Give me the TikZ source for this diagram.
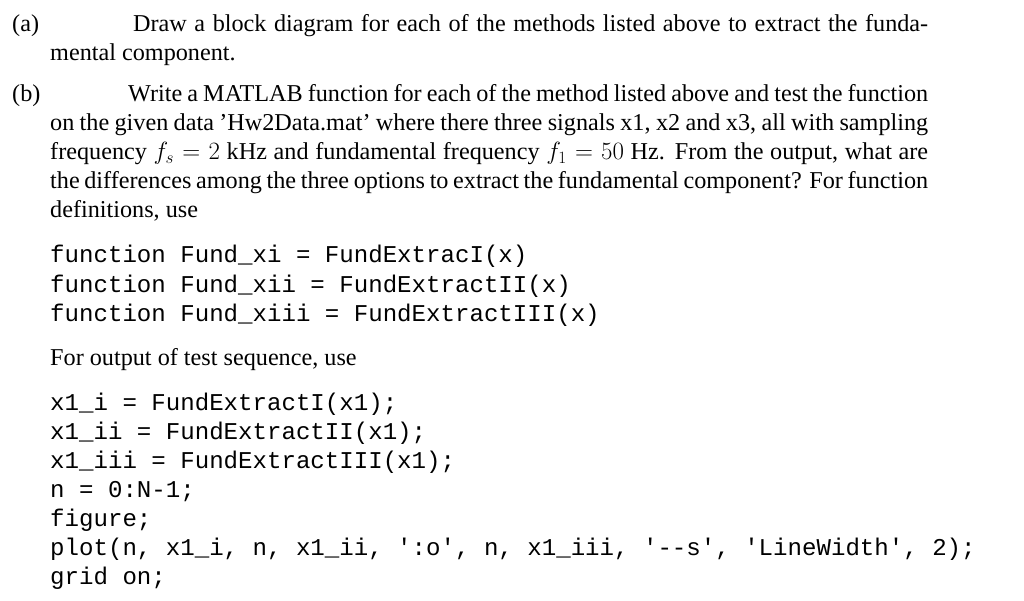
\documentclass[tikz,border=0pt]{standalone}
\usepackage{fontspec}
\setmainfont{Liberation Serif}
\setmonofont{Liberation Mono}
\begin{document}
\begin{tikzpicture}[x=1pt,y=-1pt,
  t/.style={anchor=base west,inner sep=0pt,font=\fontsize{24.2}{28}\selectfont},
  m/.style={anchor=base west,inner sep=0pt,font=\fontsize{24.1}{25}\ttfamily}]
\useasboundingbox (0,0) rectangle (1024,601);
\node[t] (a) at (12,32) {(a)};
\node[t] (l1) at (133,32) {\makebox[795pt][s]{Draw a block diagram for each of the methods listed above to extract the funda-}};
\node[t] (l2) at (50,61) {mental component.};
\node[t] (b) at (12,102) {(b)};
\node[t] (l3) at (128,102) {\makebox[800pt][s]{Write a MATLAB function for each of the method listed above and test the function}};
\node[t] (l4) at (50,131) {\makebox[878pt][s]{on the given data 'Hw2Data.mat' where there three signals x1, x2 and x3, all with sampling}};
\node[t] (l5) at (50,160) {\makebox[878pt][s]{frequency $f_s = 2$ kHz and fundamental frequency $f_1 = 50$ Hz. From the output, what are}};
\node[t] (l6) at (50,189) {\makebox[878pt][s]{the differences among the three options to extract the fundamental component? For function}};
\node[t] (l7) at (50,218) {definitions, use};
\node[m] (c1) at (50,263) {function Fund\_xi = FundExtracI(x)};
\node[m] (c2) at (50,292) {function Fund\_xii = FundExtractII(x)};
\node[m] (c3) at (50,321) {function Fund\_xiii = FundExtractIII(x)};
\node[t] (l8) at (50,365) {For output of test sequence, use};
\node[m] (d1) at (50,410) {x1\_i = FundExtractI(x1);};
\node[m] (d2) at (50,439) {x1\_ii = FundExtractII(x1);};
\node[m] (d3) at (50,468) {x1\_iii = FundExtractIII(x1);};
\node[m] (d4) at (50,497) {n = 0:N-1;};
\node[m] (d5) at (50,526) {figure;};
\node[m] (d6) at (50,555) {plot(n, x1\_i, n, x1\_ii, ':o', n, x1\_iii, '--s', 'LineWidth', 2);};
\node[m] (d7) at (50,584) {grid on;};
\end{tikzpicture}
\end{document}
